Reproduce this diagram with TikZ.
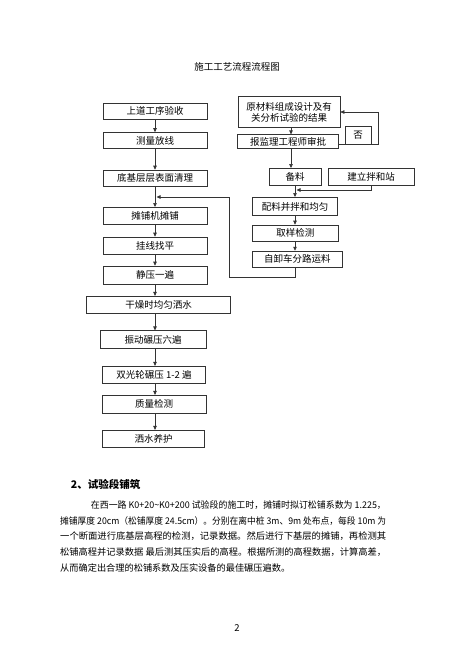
\documentclass[tikz,border=0pt]{standalone}
\usepackage{fontspec}
\setmainfont{Noto Sans CJK SC}
\usetikzlibrary{arrows.meta}

\begin{document}
\begin{tikzpicture}[x=1pt,y=-1pt]
\tikzset{bx/.style={draw=black!80, line width=0.6pt, minimum height=16pt, inner sep=1pt,
    font=\fontsize{9.5}{11}\selectfont},
  ar/.style={draw=black!80, line width=0.6pt, -{Triangle[length=4pt,width=3.5pt]}},
  para/.style={anchor=base west, inner sep=0pt, font=\fontsize{9.2}{11}\selectfont}}
\useasboundingbox (0,0) rectangle (474,669);

\node[font=\fontsize{9.5}{11}\selectfont] (title) at (237,67) {施工工艺流程流程图};

% left column
\coordinate (trunkL) at (155,0);
\node[bx, minimum width=104pt] (shangdao) at (155,111) {上道工序验收};
\node[bx, minimum width=104pt] (celiang) at (155,140.5) {测量放线};
\node[bx, minimum width=104pt] (diji) at (155,178) {底基层层表面清理};
\node[bx, minimum width=104pt, minimum height=17pt] (tanpu) at (155,215.8) {摊铺机摊铺};
\node[bx, minimum width=104pt, minimum height=17pt] (guaxian) at (155,245.5) {挂线找平};
\node[bx, minimum width=104pt, minimum height=18pt] (jingya) at (155,275) {静压一遍};
\node[bx, minimum width=144pt, minimum height=17pt] (ganzao) at (158.7,304.7) {干燥时均匀洒水};
\node[bx, minimum width=106pt, minimum height=17.5pt] (zhendong) at (153,339.5) {振动碾压六遍};
\node[bx, minimum width=103pt, minimum height=17pt] (shuangguang) at (154,374.7) {双光轮碾压 1-2 遍};
\node[bx, minimum width=104pt, minimum height=18pt] (zhiliang) at (154,404.2) {质量检测};
\node[bx, minimum width=102pt, minimum height=17pt] (yanghu) at (153.5,438.7) {洒水养护};

\foreach \a/\b in {shangdao/celiang, celiang/diji, diji/tanpu, tanpu/guaxian, guaxian/jingya,
    jingya/ganzao, ganzao/zhendong, zhendong/shuangguang, shuangguang/zhiliang, zhiliang/yanghu}
  \draw[ar] (\a.south -| trunkL) -- (\b.north -| trunkL);

% right column
\coordinate (trunkR) at (291,0);
\coordinate (trunkS) at (295,0);
\node[bx, minimum width=102pt, minimum height=30.6pt, align=center] (yuancai) at (289,112)
  {原材料组成设计及有\\关分析试验的结果};
\node[bx, minimum width=101pt, minimum height=13.5pt] (baopi) at (288,141.5) {报监理工程师审批};
\node[bx, minimum width=26.7pt, minimum height=17.6pt] (fou) at (358.2,135.5) {否};
\node[bx, minimum width=52pt, minimum height=16.7pt] (beiliao) at (295,176.7) {备料};
\node[bx, minimum width=86pt, minimum height=16.7pt] (jianzhan) at (371,176.7) {建立拌和站};
\node[bx, minimum width=85.4pt, minimum height=18.4pt] (peiliao) at (295,206.5) {配料并拌和均匀};
\node[bx, minimum width=86pt] (quyang) at (295.3,233) {取样检测};
\node[bx, minimum width=90pt, minimum height=16.3pt] (zixie) at (297.3,259.2) {自卸车分路运料};

\draw[ar] (yuancai.south -| trunkR) -- (baopi.north -| trunkR);
\draw[ar] (baopi.south -| trunkR) -- (beiliao.north -| trunkR);
\foreach \a/\b in {beiliao/peiliao, peiliao/quyang, quyang/zixie}
  \draw[ar] (\a.south -| trunkS) -- (\b.north -| trunkS);

% feedback loops
\coordinate (fouR) at (378,144.3);
\draw[ar] (baopi.east |- fouR) -- (fouR) |- (yuancai.east);
\coordinate (zhanJ) at (296.5,190);
\draw[ar] (jianzhan.south) -- (jianzhan.south |- zhanJ) -- (zhanJ);
\coordinate (retL) at (229,277);
\coordinate (joinL) at (156.5,197);
\draw[ar] (zixie.south -| trunkS) |- (retL) |- (joinL);

% text below
\node[anchor=base west, inner sep=0pt, font=\fontsize{10.5}{12}\selectfont\bfseries] (sec) at (70.7,488.5) {2、试验段铺筑};
\node[para] (line1) at (90.7,508.3)
  {\resizebox{295pt}{\height}{在西一路 K0+20\textasciitilde K0+200 试验段的施工时，摊铺时拟订松铺系数为 1.225，}};
\foreach \t [count=\i from 2] in {摊铺厚度 20cm（松铺厚度 24.5cm）。分别在离中桩 3m、9m 处布点，每段 10m 为,
    一个断面进行底基层高程的检测，记录数据。然后进行下基层的摊铺，再检测其,
    松铺高程并记录数据 最后测其压实后的高程。根据所测的高程数据，计算高差，}
  \node[para] (line\i) at (60,508.3+15.8*\i-15.8) {\resizebox{326pt}{\height}{\t}};
\node[para] (line5) at (60,571.5) {从而确定出合理的松铺系数及压实设备的最佳碾压遍数。};
\node[font=\fontsize{9.5}{11}\selectfont] (pagenum) at (237,628) {2};
\end{tikzpicture}
\end{document}
